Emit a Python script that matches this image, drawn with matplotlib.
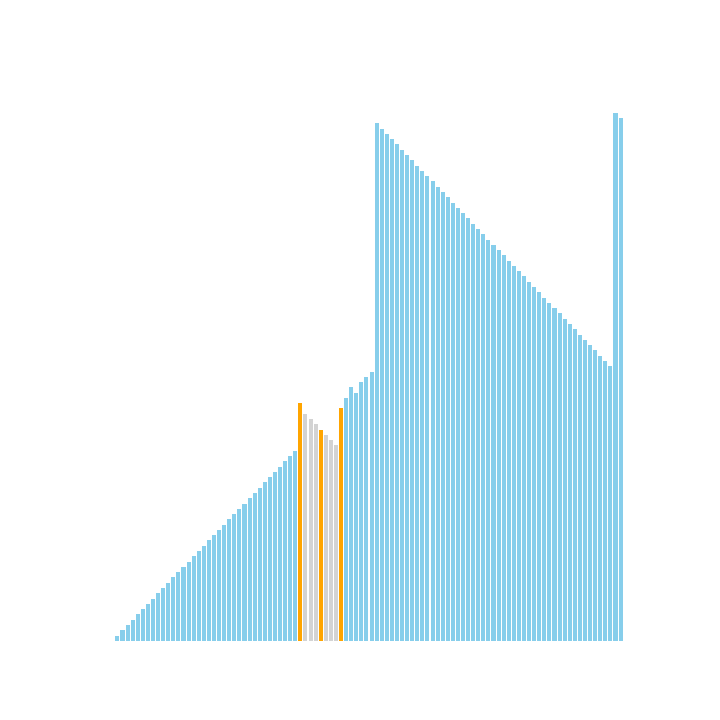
import matplotlib
matplotlib.use("Agg")
import matplotlib.pyplot as plt

values = list(range(1, 37)) + [45, 43, 42, 41, 40, 39, 38, 37, 44, 46, 48, 47, 49, 50, 51] \
    + list(range(98, 51, -1)) + [100, 99]
orange_idx = [36, 40, 44]
grey_idx = [37, 38, 39, 41, 42, 43]

colors = []
for i in range(len(values)):
    if i in orange_idx:
        colors.append("orange")
    elif i in grey_idx:
        colors.append("lightgrey")
    else:
        colors.append("skyblue")

fig, ax = plt.subplots(figsize=(7.2, 7.2), dpi=100)
ax.bar(range(len(values)), values, color=colors, width=0.8)
ax.axis("off")
fig.savefig("out.png", dpi=100)
